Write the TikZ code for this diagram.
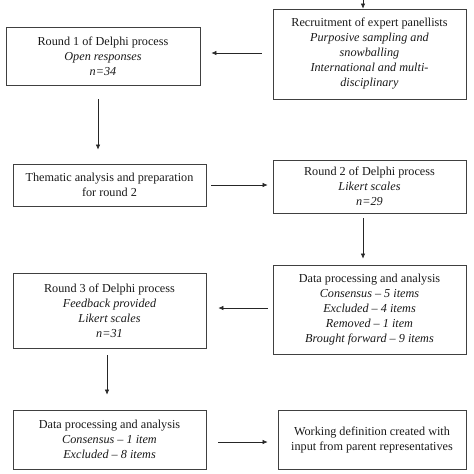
\documentclass[tikz,border=0pt]{standalone}
\usepackage{fontspec}
\setmainfont{Liberation Serif}
\usetikzlibrary{arrows.meta}
\begin{document}
\begin{tikzpicture}[x=1pt,y=-1pt,
  box/.style={draw=black!75, line width=0.8pt, align=center, inner sep=0pt,
    font=\fontsize{12.2}{15}\selectfont, text=black!90},
  arr/.style={draw=black!85, line width=0.6pt, -{Latex[length=5pt,width=4.5pt]}}]
\useasboundingbox (0,0) rectangle (474,474);
\node[box, minimum width=193pt, minimum height=90pt] (recruit) at (369.5,54)
  {Recruitment of expert panellists\\ \textit{Purposive sampling and}\\ \textit{snowballing}\\ \textit{International and multi-}\\ \textit{disciplinary}};
\node[box, minimum width=194pt, minimum height=58pt] (round1) at (103,56)
  {Round 1 of Delphi process\\ \textit{Open responses}\\ \textit{n=34}};
\node[box, minimum width=193pt, minimum height=42pt] (thematic) at (109.5,185)
  {Thematic analysis and preparation\\ for round 2};
\node[box, minimum width=193pt, minimum height=53pt] (round2) at (369.5,186.5)
  {Round 2 of Delphi process\\ \textit{Likert scales}\\ \textit{n=29}};
\node[box, minimum width=193pt, minimum height=89pt] (data1) at (369.5,309.5)
  {Data processing and analysis\\ \textit{Consensus – 5 items}\\ \textit{Excluded – 4 items}\\ \textit{Removed – 1 item}\\ \textit{Brought forward – 9 items}};
\node[box, minimum width=193pt, minimum height=75pt] (round3) at (109.5,310.5)
  {Round 3 of Delphi process\\ \textit{Feedback provided}\\ \textit{Likert scales}\\ \textit{n=31}};
\node[box, minimum width=193pt, minimum height=59pt] (data2) at (109.5,439.5)
  {Data processing and analysis\\ \textit{Consensus – 1 item}\\ \textit{Excluded – 8 items}};
\node[box, minimum width=188pt, minimum height=59pt] (working) at (372,439.5)
  {Working definition created with\\ input from parent representatives};
\coordinate (start) at (363,0);
\draw[arr] (start) -- (start |- recruit.north);
\draw[arr, shorten <=11pt, shorten >=11pt] (recruit.west |- 0,53) -- (round1.east |- 0,53);
\draw[arr, shorten <=14pt, shorten >=14pt] (round1.south -| 98,0) -- (thematic.north -| 98,0);
\draw[arr, shorten <=5pt, shorten >=5pt] (thematic.east |- 0,185) -- (round2.west |- 0,185);
\draw[arr, shorten <=5pt, shorten >=6pt] (round2.south -| 363,0) -- (data1.north -| 363,0);
\draw[arr, shorten <=5pt, shorten >=12pt] (data1.west |- 0,308) -- (round3.east |- 0,308);
\draw[arr, shorten <=7pt, shorten >=15pt] (round3.south -| 107,0) -- (data2.north -| 107,0);
\draw[arr, shorten <=12pt, shorten >=10pt] (data2.east |- 0,442) -- (working.west |- 0,442);
\end{tikzpicture}
\end{document}
